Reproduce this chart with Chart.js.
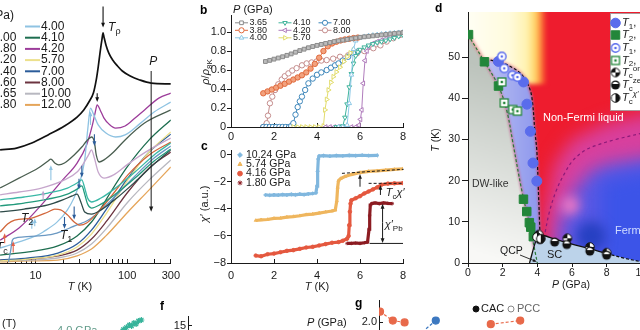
<!DOCTYPE html>
<html>
<head>
<meta charset="utf-8">
<script src="https://cdn.jsdelivr.net/npm/chart.js@4.4.1/dist/chart.umd.min.js"></script>
<style>
html, body { margin: 0; padding: 0; background: #fff; }
body { position: relative; width: 640px; height: 330px; overflow: hidden; }
canvas { position: absolute; }
</style>
</head>
<body>
<canvas id="chartA" width="230" height="300" style="left:-40px; top:0px"></canvas>
<canvas id="chartB" width="220" height="145" style="left:200px; top:0px"></canvas>
<canvas id="chartC" width="220" height="165" style="left:200px; top:140px"></canvas>
<canvas id="chartD" width="250" height="300" style="left:430px; top:0px"></canvas>
<canvas id="chartE" width="160" height="60" style="left:0px; top:290px"></canvas>
<canvas id="chartF" width="190" height="60" style="left:160px; top:290px"></canvas>
<canvas id="chartG" width="300" height="60" style="left:340px; top:290px"></canvas>
<script>
const INK = '#1a1a1a'
const FONT = "'Liberation Sans', Arial, sans-serif"

// ---------- a: resistivity vs T (log axis), one curve per pressure ----------
const aPressure = ['0', '1.00', '1.80', '2.20', '2.40', '3.60', '3.65', '3.80', '4.00', '4.10', '4.20', '5.70', '7.00', '8.00', '10.00', '12.00']
const aColor = ['#111111', '#4a5e50', '#c6a6cc', '#3ab8a6', '#239a7c', '#2e4a48', '#d2663a', '#6a98c2', '#8fc3e2', '#1e6e50', '#9c3c9a', '#ece08c', '#2b5c9a', '#6c3440', '#b8b8c0', '#e5a55a']
const bundleT = [4.1, 8.4, 17.5, 28.4, 40.8, 58.7, 102, 174, 300]
const aT = [
    [4.1, 6.2, 9.1, 13.7, 20.7, 28.4, 33.6, 38.8, 42.8, 46.0, 48.3, 50.7, 53.2, 54.6, 55.9, 58.7, 63.1, 69.5, 78.5, 88.6, 108, 137, 183, 300],
    [4.1, 6.6, 10.7, 13.7, 14.7, 16.2, 17.9, 20.7, 26.4, 32.0, 36.1, 40.8, 43.9, 46.0, 49.5, 55.9, 71.2, 95.0, 155, 300],
    [4.1, 6.6, 11.6, 20.7, 28.4, 33.6, 37.9, 40.8, 43.9, 48.3, 55.9, 71.2, 102, 174, 300],
    [4.1, 7.5, 13.7, 22.3, 28.4, 32.0, 34.4, 37.0, 40.8, 51.9, 74.7, 122, 197, 300],
    [4.1, 7.5, 13.7, 22.3, 28.4, 32.0, 34.4, 37.0, 40.8, 51.9, 74.7, 122, 197, 300],
    [4.1, 7.5, 13.7, 19.8, 25.1, 28.4, 31.2, 34.4, 40.8, 51.9, 74.7, 122, 197, 300],
    [4.1, 4.95, 5.9, 9.1, 13.7, 16.2, 18.8, 22.3, 26.4, 30.5, 36.1, 46.0, 66.2, 102, 174, 300],
    [5.07, 5.32, 5.59, 6.0, 7.5, 10.7, 15.5, 19.8, 25.1, 29.8, 34.4, 40.8, 51.9, 74.7, 122, 197, 300],
    [4.1, 6.6, 12.1, 22.3, 29.8, 34.4, 37.1, 39.8, 42.8, 48.3, 58.7, 74.7, 95.0, 137, 197, 300],
    [4.1, 8.4, 17.5, 28.4, 40.8, 51.9, 66.2, 102, 174, 300],
    [4.1, 6.6, 11.6, 19.8, 28.4, 36.1, 41.8, 44.9, 47.1, 50.7, 55.9, 63.1, 74.7, 95.0, 122, 155, 222, 300],
    bundleT, bundleT, bundleT, bundleT, bundleT
]
const aRho = [
    [43.0, 43.7, 45.6, 48.7, 52.1, 55.5, 58.2, 61.6, 64.6, 69.6, 74.5, 80.2, 85.2, 87.5, 85.9, 82.9, 79.8, 77.2, 74.9, 73.0, 71.1, 69.6, 68.4, 68.1],
    [28.5, 32.3, 36.1, 38.8, 39.5, 38.0, 37.3, 38.0, 41.1, 44.1, 46.4, 47.9, 46.0, 41.1, 38.4, 39.2, 42.2, 46.8, 53.2, 58.2],
    [25.9, 27.0, 28.5, 31.6, 34.6, 38.0, 41.1, 43.0, 39.9, 34.6, 32.3, 33.5, 37.6, 43.0, 47.5],
    [24.0, 25.1, 26.6, 28.5, 30.4, 31.6, 28.5, 24.7, 23.2, 24.7, 28.5, 34.6, 41.1, 45.6],
    [21.7, 22.8, 24.3, 26.2, 28.1, 29.3, 26.2, 22.4, 20.9, 22.4, 26.2, 32.3, 38.8, 43.3],
    [19.4, 20.5, 22.1, 24.0, 25.5, 26.2, 23.2, 19.4, 18.6, 20.2, 24.3, 30.8, 37.6, 43.0],
    [11.8, 14.8, 16.3, 17.1, 19.4, 20.5, 20.2, 18.3, 15.6, 14.4, 15.2, 18.6, 25.1, 33.5, 41.1, 46.0],
    [0.4, 4.2, 8.7, 9.5, 9.9, 10.3, 11.0, 12.2, 13.7, 14.8, 15.6, 17.1, 20.2, 25.5, 33.1, 39.9, 44.5],
    [5.7, 8.0, 11.8, 20.2, 29.7, 39.2, 50.6, 58.9, 56.7, 52.5, 49.4, 47.9, 48.7, 52.9, 57.4, 61.2],
    [3.0, 4.2, 6.5, 10.3, 15.6, 20.9, 27.0, 36.9, 46.8, 54.4],
    [8.7, 13.3, 22.1, 31.6, 38.0, 44.9, 52.5, 57.4, 60.1, 58.2, 55.1, 52.9, 51.3, 52.1, 55.1, 58.2, 62.7, 64.6],
    [0.8, 1.5, 3.0, 6.1, 11.0, 18.6, 31.6, 42.2, 49.8],
    [1.1, 1.9, 3.8, 7.2, 12.5, 20.2, 32.3, 42.2, 49.0],
    [1.1, 1.5, 2.7, 4.9, 9.1, 15.6, 27.0, 36.1, 42.2],
    [0.8, 1.1, 1.9, 3.8, 7.2, 12.9, 23.2, 31.6, 39.2],
    [0.4, 0.8, 1.1, 2.7, 5.3, 10.3, 19.4, 27.8, 36.5]
]
const aTicks = [5, 6, 7, 8, 9, 10, 20, 30, 40, 50, 60, 70, 80, 90, 100, 200, 300]
const aTickLabels = [10, 100, 300]
// transition markers: [T, rho from, rho to, colour]
const aArrows = [
    [54.6, 97.5, 89.5, '#111111'],
    [47.1, 64.5, 61.2, '#111111'],
    [39.8, 52.5, 57.6, '#8fc3e2'],
    [14.7, 31.5, 37.2, '#8fc3e2'],
    [43.9, 49.0, 44.5, '#2b5c9a'],
    [12.1, 24.0, 27.6, '#b9a2c9'],
    [32.0, 37.0, 32.5, '#2b5c9a'],
    [29.8, 32.0, 28.0, '#2b5c9a'],
    [9.1, 13.0, 16.6, '#8fc3e2'],
    [9.8, 14.0, 17.0, '#8fc3e2'],
    [20.7, 17.5, 13.0, '#2b5c9a'],
    [26.4, 21.5, 16.5, '#2b5c9a'],
    [4.6, 7.5, 11.3, '#e0604a'],
    [5.7, 4.0, 8.3, '#e0604a']
]
const aPressureArrow = [183, 73, 19.5]

// ---------- b: normalised resistance at low T ----------
const bPressure = ['3.65', '3.80', '4.00', '4.10', '4.20', '5.70', '7.00', '8.00']
const bColor = ['#8a8a8a', '#e0693c', '#8cc8e6', '#40b49c', '#b07cbc', '#e2dc6c', '#3d86ba', '#c48c8c']
const bFill = ['#bdbdbd', '#f2a27e', '#ffffff', '#ffffff', '#ffffff', '#ffffff', '#ffffff', '#ffffff']
const bStyle = ['rect', 'circle', 'triangle', 'triangle', 'triangle', 'triangle', 'circle', 'circle']
const bRot = [0, 0, 0, 180, -90, 90, 0, 0]
const bT = [
    [1.6, 1.8, 2.0, 2.2, 2.4, 2.6, 2.8, 3.0, 3.2, 3.4, 3.6, 3.8, 4.0, 4.2, 4.4, 4.6, 4.8, 5.0, 5.2, 5.4, 5.6, 5.8, 6.0, 6.2, 6.4, 6.6, 6.8, 7.0, 7.2, 7.4, 7.6, 7.8, 8.0],
    [1.5, 1.7, 1.9, 2.1, 2.3, 2.5, 2.7, 2.9, 3.1, 3.3, 3.5, 3.7, 3.9, 4.1, 4.3, 4.5, 4.7, 4.9, 5.1, 5.3, 5.5, 5.7, 5.9],
    [5.0, 5.2, 5.4, 5.5, 5.6, 5.7, 5.8, 6.0, 6.2, 6.4, 6.6, 6.8, 7.0, 7.2, 7.4, 7.6, 7.8, 8.0],
    [4.9, 5.0, 5.1, 5.2, 5.3, 5.4, 5.5, 5.6, 5.7, 5.8, 5.9, 6.0, 6.2, 6.4, 6.6, 6.8, 7.0, 7.2, 7.4, 7.6, 7.8, 8.0],
    [4.4, 4.6, 4.8, 5.0, 5.2, 5.4, 5.6, 5.8, 5.95, 6.02, 6.08, 6.15, 6.23, 6.32, 6.4, 6.6, 6.8, 7.0, 7.2, 7.4, 7.6, 7.8, 8.0],
    [2.9, 3.1, 3.3, 3.5, 3.7, 3.9, 4.1, 4.3, 4.37, 4.45, 4.53, 4.65, 4.76, 4.9, 5.07, 5.25, 5.4, 5.55, 5.7],
    [1.5, 1.65, 1.8, 1.95, 2.1, 2.25, 2.4, 2.55, 2.7, 2.8, 2.9, 3.0, 3.1, 3.2, 3.3, 3.45, 3.6, 3.8, 4.0, 4.2, 4.45, 4.65, 4.84, 5.0, 5.2, 5.45, 5.7, 5.9],
    [1.5, 1.6, 1.66, 1.72, 1.81, 1.92, 2.05, 2.2, 2.36, 2.5, 2.67, 2.85, 3.05, 3.3, 3.52, 3.75, 3.98, 4.2, 4.45, 4.75, 5.07, 5.45, 5.85, 6.2, 6.62, 6.95, 7.24, 7.55, 7.86]
]
const bRatio = [
    [0.690, 0.702, 0.715, 0.727, 0.740, 0.755, 0.770, 0.788, 0.805, 0.820, 0.835, 0.848, 0.860, 0.870, 0.880, 0.890, 0.900, 0.908, 0.915, 0.923, 0.930, 0.938, 0.945, 0.950, 0.955, 0.960, 0.965, 0.970, 0.975, 0.980, 0.985, 0.990, 0.995],
    [0.355, 0.375, 0.395, 0.415, 0.435, 0.455, 0.478, 0.500, 0.522, 0.545, 0.575, 0.615, 0.665, 0.730, 0.800, 0.850, 0.880, 0.898, 0.912, 0.922, 0.930, 0.937, 0.942],
    [0, 0, 0.02, 0.25, 0.55, 0.82, 0.91, 0.94, 0.952, 0.96, 0.966, 0.972, 0.977, 0.982, 0.986, 0.99, 0.994, 0.998],
    [0, 0, 0, 0.01, 0.10, 0.24, 0.42, 0.56, 0.67, 0.75, 0.79, 0.815, 0.84, 0.86, 0.875, 0.89, 0.90, 0.912, 0.925, 0.94, 0.955, 0.97],
    [0, 0, 0, 0, 0, 0, 0, 0, 0.02, 0.08, 0.18, 0.46, 0.70, 0.80, 0.85, 0.88, 0.90, 0.915, 0.93, 0.945, 0.96, 0.975, 0.99],
    [0, 0, 0, 0, 0, 0, 0, 0.01, 0.18, 0.29, 0.39, 0.47, 0.53, 0.58, 0.63, 0.69, 0.74, 0.78, 0.81],
    [0, 0, 0, 0, 0, 0, 0, 0, 0, 0.01, 0.04, 0.13, 0.21, 0.27, 0.32, 0.39, 0.46, 0.51, 0.55, 0.575, 0.60, 0.625, 0.65, 0.67, 0.70, 0.74, 0.78, 0.795],
    [0, 0.01, 0.04, 0.12, 0.25, 0.32, 0.39, 0.45, 0.50, 0.535, 0.565, 0.595, 0.62, 0.65, 0.67, 0.68, 0.69, 0.70, 0.705, 0.72, 0.74, 0.755, 0.775, 0.80, 0.83, 0.86, 0.90, 0.935, 0.97]
]

// ---------- c: ac susceptibility ----------
const cPressure = ['10.24 GPa', '5.74 GPa', '4.16 GPa', '1.80 GPa']
const cColor = ['#80b7de', '#efb65e', '#e4583f', '#8c1c22']
const cStyle = ['rectRot', 'triangle', 'circle', 'star']
const cT = [
    [1.6, 1.8, 2.0, 2.2, 2.4, 2.6, 2.8, 3.0, 3.2, 3.4, 3.6, 3.8, 3.95, 4.0, 4.03, 4.06, 4.1, 4.3, 4.6, 4.9, 5.2, 5.5, 5.8, 6.1, 6.4, 6.8],
    [1.15, 1.4, 1.7, 2.0, 2.3, 2.6, 2.9, 3.2, 3.5, 3.8, 4.1, 4.4, 4.7, 4.85, 4.92, 4.96, 5.0, 5.1, 5.3, 5.6, 6.0, 6.4, 6.8, 7.2, 7.6, 8.0],
    [1.15, 1.4, 1.7, 2.0, 2.3, 2.6, 2.9, 3.2, 3.5, 3.8, 4.1, 4.4, 4.7, 5.0, 5.2, 5.4, 5.47, 5.5, 5.53, 5.56, 5.6, 5.8, 6.0, 6.2, 6.4, 6.6, 6.8, 7.0, 7.3, 7.6, 8.0],
    [5.4, 5.6, 5.8, 6.0, 6.2, 6.35, 6.42, 6.45, 6.48, 6.55, 6.7, 6.9, 7.1, 7.3, 7.5]
]
const cChi = [
    [-2.96, -2.98, -2.95, -2.97, -2.93, -2.96, -2.92, -2.95, -2.90, -2.93, -2.88, -2.85, -2.80, -2.3, -1.2, -0.3, -0.08, -0.05, -0.08, -0.04, -0.06, -0.03, -0.05, -0.02, -0.04, -0.03],
    [-4.85, -4.80, -4.78, -4.70, -4.68, -4.60, -4.56, -4.50, -4.42, -4.38, -4.30, -4.22, -4.15, -4.08, -3.4, -2.4, -1.9, -1.75, -1.6, -1.45, -1.3, -1.22, -1.17, -1.12, -1.07, -1.02],
    [-7.45, -7.5, -7.35, -7.3, -7.2, -7.1, -7.05, -6.95, -6.85, -6.8, -6.7, -6.6, -6.5, -6.45, -6.35, -6.2, -6.0, -5.2, -4.2, -3.6, -3.35, -3.2, -3.05, -2.85, -2.7, -2.55, -2.4, -2.2, -2.12, -2.1, -2.08],
    [-6.55, -6.55, -6.52, -6.55, -6.5, -6.45, -5.5, -4.5, -3.7, -3.6, -3.55, -3.6, -3.55, -3.58, -3.6]
]

// ---------- d: phase diagram ----------
const dT1P = [1.75, 3.2, 3.4, 3.6, 3.75, 3.97]
const dT1 = [49, 44, 38.6, 32, 24.3, 19.9]
const dT1oP = [1.95, 2.09, 2.56, 2.85]
const dT1o = [50.2, 47.3, 45.6, 45.2]
const dT2P = [0.03, 0.95, 1.76, 3.2, 3.39, 3.54, 3.62, 3.77]
const dT2 = [55.5, 48.9, 43, 15.5, 12.5, 9.8, 8.7, 6.4]
const dT2oP = [1.95, 2.09, 2.58, 2.85]
const dT2o = [44, 38.9, 37.3, 36.9]
const dTcOnP = [4.08, 5.73, 7.03, 8.0]
const dTcOn = [6.9, 6.0, 3.9, 2.5]
const dTcZeroP = [4.15, 5.0, 5.7, 7.03, 8.0]
const dTcZero = [5.7, 5.1, 4.5, 2.9, 1.9]
const dTcChiP = [3.98, 4.2]
const dTcChi = [6.3, 5.9]
const dT2LineP = [0, 0.95, 1.76, 2.24, 2.6, 3.1, 3.58, 4.0]
const dT2Line = [55.5, 48.9, 43, 37, 29, 17.7, 8.8, 0]
const dT1LineP = [1.3, 2.0, 2.6, 3.1, 3.45, 3.68, 3.87, 3.97, 4.06, 4.15]
const dT1Line = [49.3, 48.6, 47.4, 45.8, 43.5, 40.4, 31.5, 27.4, 17.7, 7.3]
const dFLLineP = [4.45, 4.7, 5.1, 5.6, 6.07, 6.8, 7.4, 8.5, 10.5]
const dFLLine = [7.5, 12.5, 17.7, 22, 25, 27.5, 28.6, 30, 32]
const dSCLineP = [3.55, 3.95, 4.15, 5.0, 6.0, 7.0, 8.0]
const dSCLine = [0, 5.8, 6.8, 5.8, 4.6, 3.5, 2.3]
const dSCTailP = [8.0, 9.0, 10.0, 10.5]
const dSCTail = [2.3, 1.2, 0.3, 0]

// ---------- e, f, g (top edges only) ----------
const eX = [0.79, 0.81, 0.83, 0.845, 0.86, 0.875, 0.89, 0.91]
const eY = [0.12, 0.20, 0.30, 0.26, 0.38, 0.34, 0.46, 0.50]
const gCacP = [0.04, 0.54, 1.0]
const gCac = [2.144, 2.024, 2.0]
const gBlueP = [1.84, 2.22]
const gBlue = [1.916, 2.024]
const gRightP = [4.37, 5.52]
const gRight = [1.976, 2.024]

Chart.defaults.font.family = FONT
Chart.defaults.font.size = 11
Chart.defaults.color = INK
Chart.defaults.animation = false
Chart.defaults.responsive = false
Chart.defaults.devicePixelRatio = 1
Chart.defaults.events = []
Chart.defaults.plugins.legend.display = false
Chart.defaults.plugins.tooltip.enabled = false

const zip = (xs, ys) => xs.map((v, i) => ({ x: v, y: ys[i] }))

// text made of runs; each run may be italic, bold, sub- or superscript
function rich(ctx, x, y, parts, size, color, align) {
    const list = parts.map(p => typeof p === 'string' ? { t: p } : p)
    const fontOf = p => (p.b ? 'bold ' : '') + (p.i ? 'italic ' : '') + ((p.sub || p.sup) ? Math.round(size * 0.72) : size) + 'px ' + FONT
    ctx.save()
    ctx.fillStyle = color || INK
    ctx.textBaseline = 'middle'
    ctx.textAlign = 'left'
    let w = 0
    list.forEach(p => { ctx.font = fontOf(p); w += ctx.measureText(p.t).width })
    let cx = align === 'center' ? x - w / 2 : align === 'right' ? x - w : x
    list.forEach(p => {
        ctx.font = fontOf(p)
        ctx.fillText(p.t, cx, y + (p.sub ? size * 0.32 : p.sup ? -size * 0.38 : 0))
        cx += ctx.measureText(p.t).width
    })
    ctx.restore()
}

function richUp(ctx, x, y, parts, size, color) {
    ctx.save()
    ctx.translate(x, y)
    ctx.rotate(-Math.PI / 2)
    rich(ctx, 0, 0, parts, size, color, 'center')
    ctx.restore()
}

function arrow(ctx, x1, y1, x2, y2, color, head, width) {
    const a = Math.atan2(y2 - y1, x2 - x1)
    const h = head || 3
    ctx.save()
    ctx.strokeStyle = color
    ctx.fillStyle = color
    ctx.lineWidth = width || 1
    ctx.beginPath()
    ctx.moveTo(x1, y1)
    ctx.lineTo(x2 - h * Math.cos(a), y2 - h * Math.sin(a))
    ctx.stroke()
    ctx.beginPath()
    ctx.moveTo(x2, y2)
    ctx.lineTo(x2 - 2 * h * Math.cos(a) + h * 0.8 * Math.sin(a), y2 - 2 * h * Math.sin(a) - h * 0.8 * Math.cos(a))
    ctx.lineTo(x2 - 2 * h * Math.cos(a) - h * 0.8 * Math.sin(a), y2 - 2 * h * Math.sin(a) + h * 0.8 * Math.cos(a))
    ctx.closePath()
    ctx.fill()
    ctx.restore()
}

function line(ctx, pts, color, width, dash) {
    ctx.save()
    ctx.strokeStyle = color
    ctx.lineWidth = width
    ctx.setLineDash(dash || [])
    ctx.beginPath()
    pts.forEach(([x, y], i) => i ? ctx.lineTo(x, y) : ctx.moveTo(x, y))
    ctx.stroke()
    ctx.restore()
}

function mark(ctx, style, x, y, r, fill, stroke, rot) {
    ctx.save()
    ctx.fillStyle = fill
    ctx.strokeStyle = stroke
    ctx.lineWidth = 1
    Chart.helpers.drawPoint(ctx, { pointStyle: style, radius: r, rotation: rot || 0, borderWidth: 1 }, x, y)
    ctx.restore()
}

function axis(o) {
    return {
        type: o.type || 'linear',
        display: o.display !== false,
        min: o.min,
        max: o.max,
        afterBuildTicks: s => { s.ticks = (o.ticks || []).map(v => ({ value: v })) },
        afterFit: s => {
            if (o.fit !== undefined) { if (s.isHorizontal()) s.height = o.fit; else s.width = o.fit }
            if (o.flush) { s.paddingTop = 0; s.paddingBottom = 0; s.paddingLeft = 0; s.paddingRight = 0 }
        },
        grid: { drawOnChartArea: false, drawTicks: true, tickLength: o.tl, tickColor: INK, tickWidth: 1 },
        border: { display: true, color: INK, width: 1 },
        ticks: {
            autoSkip: false, maxRotation: 0, minRotation: 0,
            padding: o.pad, color: INK, font: { size: o.size || 11 },
            callback: o.fmt || (v => String(v))
        }
    }
}

// small marker glyphs for the phase diagram
function glyph(size, draw) {
    const c = document.createElement('canvas')
    c.width = size
    c.height = size
    draw(c.getContext('2d'), size / 2)
    return c
}
const T1_BLUE = '#5a6cec'
const T2_GREEN = '#23863a'
const ringDot = glyph(12, (g, m) => {
    g.fillStyle = '#fff'; g.strokeStyle = T1_BLUE; g.lineWidth = 1.4
    g.beginPath(); g.arc(m, m, 4.2, 0, Math.PI * 2); g.fill(); g.stroke()
    g.fillStyle = T1_BLUE; g.beginPath(); g.arc(m, m, 1.3, 0, Math.PI * 2); g.fill()
})
const boxDot = glyph(12, (g, m) => {
    g.fillStyle = '#fff'; g.strokeStyle = T2_GREEN; g.lineWidth = 1.3
    g.fillRect(m - 4, m - 4, 8, 8); g.strokeRect(m - 4, m - 4, 8, 8)
    g.fillStyle = T2_GREEN; g.fillRect(m - 1.2, m - 1.2, 2.4, 2.4)
})
const tcOnset = glyph(12, (g, m) => {
    g.fillStyle = '#fff'; g.beginPath(); g.arc(m, m, 4.3, 0, Math.PI * 2); g.fill()
    g.fillStyle = '#111'
    for (let k = 0; k < 4; k += 2) {
        g.beginPath(); g.moveTo(m, m); g.arc(m, m, 4.3, k * Math.PI / 2, (k + 1) * Math.PI / 2); g.closePath(); g.fill()
    }
    g.strokeStyle = '#111'; g.lineWidth = 1; g.beginPath(); g.arc(m, m, 4.3, 0, Math.PI * 2); g.stroke()
})
const tcZero = glyph(12, (g, m) => {
    g.fillStyle = '#111'; g.beginPath(); g.arc(m, m, 4.5, 0, Math.PI * 2); g.fill()
    g.fillStyle = '#fff'; g.beginPath(); g.arc(m, m, 3.2, Math.PI * 1.1, Math.PI * 1.9); g.closePath(); g.fill()
})
const tcChi = glyph(12, (g, m) => {
    g.fillStyle = '#fff'; g.beginPath(); g.arc(m, m, 4.3, 0, Math.PI * 2); g.fill()
    g.fillStyle = '#111'; g.beginPath(); g.arc(m, m, 4.3, -Math.PI / 2, Math.PI / 2); g.closePath(); g.fill()
    g.strokeStyle = '#111'; g.lineWidth = 1; g.beginPath(); g.arc(m, m, 4.3, 0, Math.PI * 2); g.stroke()
})

// ================= panel a =================
const aNotes = {
    id: 'aNotes',
    afterDraw(chart) {
        const { ctx, scales: { x, y } } = chart
        aArrows.forEach(([t, r0, r1, c]) => {
            const px = x.getPixelForValue(t)
            arrow(ctx, px, y.getPixelForValue(r0), px, y.getPixelForValue(r1), c, 2.4, 1.1)
        })
        const pp = x.getPixelForValue(aPressureArrow[0])
        arrow(ctx, pp, y.getPixelForValue(aPressureArrow[1]), pp, y.getPixelForValue(aPressureArrow[2]), INK, 2.6, 1)
        rich(ctx, pp + 2, y.getPixelForValue(76.5), [{ t: 'P', i: true }], 12, INK, 'center')
        const pk = x.getPixelForValue(54.6)
        rich(ctx, pk + 5, y.getPixelForValue(89.5), [{ t: 'T', i: true }, { t: 'ρ', sub: true }], 12, INK)

        // page coordinates from here on
        ctx.save()
        ctx.translate(40, 0)
        rich(ctx, 14, 15.5, [{ t: 'P', i: true }, ' (GPa)'], 12, INK, 'right')
        aPressure.forEach((p, i) => {
            const col = i < 8 ? 0 : 1
            const yy = 26.5 + (i % 8) * 11.2
            const lx = col ? 25 : -23
            line(ctx, [[lx, yy], [lx + 15, yy]], aColor[i], 2)
            rich(ctx, lx + 16, yy, [p], 12, INK)
        })
        rich(ctx, 21, 219, [{ t: 'T', i: true }, { t: '2', sub: true }], 12, INK)
        rich(ctx, 60, 236, [{ t: 'T', i: true }, { t: '1', sub: true }], 12, INK)
        rich(ctx, -4, 248, [{ t: 'T', i: true }, { t: 'c', sub: true }], 12, INK)
        rich(ctx, 80, 286.5, [{ t: 'T', i: true }, ' (K)'], 11, INK, 'center')
        ctx.restore()
    }
}

new Chart(document.getElementById('chartA'), {
    type: 'scatter',
    data: {
        datasets: aPressure.map((p, i) => ({
            label: p,
            data: zip(aT[i], aRho[i]),
            showLine: true,
            borderColor: aColor[i],
            borderWidth: i === 0 ? 1.7 : 1.3,
            pointRadius: 0,
            cubicInterpolationMode: 'monotone'
        }))
    },
    options: {
        layout: { padding: { left: 40, right: 12, top: 0, bottom: 0 } },
        scales: {
            x: axis({ type: 'logarithmic', min: 4.09, max: 300, ticks: aTicks, fit: 37, tl: -4, pad: 10,
                fmt: v => aTickLabels.includes(v) ? String(v) : '' }),
            y: { display: false, min: 0, max: 100 }
        }
    },
    plugins: [aNotes]
})

// ================= panel b =================
const bNotes = {
    id: 'bNotes',
    afterDraw(chart) {
        const { ctx } = chart
        ctx.save()
        ctx.translate(-200, 0)
        rich(ctx, 200, 11, [{ t: 'b', b: true }], 12, '#000')
        rich(ctx, 233, 10, [{ t: 'P', i: true }, ' (GPa)'], 11, INK)
        const colX = [241.5, 285, 325]
        const rowY = [22.8, 30.3, 37.8]
        bPressure.forEach((p, i) => {
            const cx = colX[Math.floor(i / 3)]
            const cy = rowY[i % 3]
            line(ctx, [[cx - 6.5, cy], [cx + 6.5, cy]], bColor[i], 1)
            mark(ctx, bStyle[i], cx, cy, 2.6, '#fff', bColor[i], bRot[i])
            rich(ctx, cx + 8, cy, [p], 9, INK)
        })
        richUp(ctx, 206, 72, [{ t: 'ρ', i: true }, '/', { t: 'ρ', i: true }, { t: '8K', sub: true }], 11, INK)
        ctx.restore()
    }
}

new Chart(document.getElementById('chartB'), {
    type: 'scatter',
    data: {
        datasets: bPressure.map((p, i) => ({
            label: p,
            data: zip(bT[i], bRatio[i]),
            showLine: true,
            borderColor: bColor[i],
            borderWidth: 1,
            pointStyle: bStyle[i],
            rotation: bRot[i],
            pointRadius: 2.7,
            pointBorderWidth: 1,
            pointBackgroundColor: bFill[i],
            pointBorderColor: bColor[i]
        }))
    },
    options: {
        layout: { padding: { left: 0, right: 17, top: 15, bottom: 0 } },
        scales: {
            x: axis({ min: 0, max: 8, ticks: [0, 2, 4, 6, 8], fit: 18, tl: -4, pad: 7 }),
            y: axis({ min: 0, max: 1.18, ticks: [0, 0.2, 0.4, 0.6, 0.8, 1.0], fit: 31, tl: 4, pad: 1,
                fmt: v => v === 0 ? '0' : v.toFixed(1) })
        }
    },
    plugins: [bNotes]
})

// ================= panel c =================
const cNotes = {
    id: 'cNotes',
    afterDraw(chart) {
        const { ctx, scales: { x, y } } = chart
        const P = (t, v) => [x.getPixelForValue(t), y.getPixelForValue(v)]
        line(ctx, [P(5.16, -1.36), P(8.03, -1.06)], INK, 1, [3, 2])
        line(ctx, [P(6.4, -2.1), P(8.03, -2.1)], INK, 1, [3, 2])
        line(ctx, [P(6.45, -6.55), P(8.0, -6.55)], INK, 1)
        arrow(ctx, ...P(6.0, -2.35), ...P(6.0, -1.4), INK, 2.4, 1)
        arrow(ctx, ...P(6.95, -2.96), ...P(6.95, -2.22), INK, 2.4, 1)
        arrow(ctx, ...P(7.05, -5.0), ...P(7.05, -3.62), INK, 2.4, 1)
        arrow(ctx, ...P(7.05, -5.0), ...P(7.05, -6.52), INK, 2.4, 1)
        rich(ctx, ...P(7.2, -2.8), [{ t: 'T', i: true }, { t: 'c', sub: true }, { t: 'χ′', i: true }], 11, INK)
        rich(ctx, ...P(7.15, -5.2), [{ t: 'χ′', i: true }, { t: 'Pb', sub: true }], 11, INK)

        ctx.save()
        ctx.translate(-200, -140)
        rich(ctx, 201, 147, [{ t: 'c', b: true }], 12, '#000')
        cPressure.forEach((p, i) => {
            const cy = 155 + i * 9.3
            mark(ctx, cStyle[i], 240, cy, 2.4, cColor[i], cColor[i])
            rich(ctx, 246, cy, [p], 10.5, INK)
        })
        rich(ctx, 317, 286.5, [{ t: 'T', i: true }, ' (K)'], 11, INK, 'center')
        richUp(ctx, 205, 204, [{ t: 'χ′', i: true }, ' (a.u.)'], 11, INK)
        ctx.restore()
    }
}

new Chart(document.getElementById('chartC'), {
    type: 'scatter',
    data: {
        datasets: cPressure.map((p, i) => ({
            label: p,
            data: zip(cT[i], cChi[i]),
            showLine: true,
            borderColor: cColor[i],
            borderWidth: 3.2,
            pointStyle: cStyle[i],
            pointRadius: 1.8,
            pointBorderWidth: 0.8,
            pointBackgroundColor: cColor[i],
            pointBorderColor: cColor[i]
        }))
    },
    options: {
        layout: { padding: { left: 0, right: 17, top: 10, bottom: 0 } },
        scales: {
            x: axis({ min: 0, max: 8, ticks: [0, 2, 4, 6, 8], fit: 42, tl: -4, pad: 10 }),
            y: axis({ min: -8, max: 0.37, ticks: [-8, -6, -4, -2, 0], fit: 31, tl: 4, pad: 1,
                fmt: v => v === 0 ? '0' : '\u2212' + Math.abs(v) })
        }
    },
    plugins: [cNotes]
})

// ================= panel d =================
const phaseMap = {
    id: 'phaseMap',
    beforeDraw(chart) {
        const { ctx, chartArea: a, scales: { x, y } } = chart
        const X = v => x.getPixelForValue(v)
        const Y = v => y.getPixelForValue(v)
        const path = pts => {
            ctx.beginPath()
            pts.forEach(([p, t], i) => i ? ctx.lineTo(X(p), Y(t)) : ctx.moveTo(X(p), Y(t)))
            ctx.closePath()
        }
        const pairs = (ps, ts) => ps.map((p, i) => [p, ts[i]])
        const t2 = pairs(dT2LineP, dT2Line)
        const t1 = pairs(dT1LineP, dT1Line)
        const sc = pairs(dSCLineP, dSCLine).concat(pairs(dSCTailP, dSCTail).slice(1))

        ctx.save()
        ctx.beginPath()
        ctx.rect(a.left, a.top, a.width, a.height)
        ctx.clip()
        ctx.fillStyle = '#ee1c2e'
        ctx.fillRect(a.left, a.top, a.width, a.height)

        // high-pressure, low-temperature side of the map
        ctx.filter = 'blur(9px)'
        path([[4.5, -5], [4.4, 12], [5, 24], [6, 30], [8, 34], [11, 37], [11, -5]])
        ctx.fillStyle = '#d8409e'; ctx.fill()
        path([[5.2, -5], [5.2, 8], [5.6, 13], [6.2, 18], [7.0, 22], [8, 24], [11, 26], [11, -5]])
        ctx.fillStyle = '#5a58e4'; ctx.fill()
        path([[7.6, -5], [7.6, 20], [11, 23], [11, -5]])
        ctx.fillStyle = '#3c54e8'; ctx.fill()
        ctx.filter = 'blur(6px)'
        ctx.beginPath(); ctx.arc(X(5.9), Y(14), 9, 0, Math.PI * 2)
        ctx.fillStyle = '#f27cc6'; ctx.fill()
        ctx.beginPath(); ctx.arc(X(7.1), Y(6.5), 15, 0, Math.PI * 2)
        ctx.fillStyle = '#2640c2'; ctx.fill()

        // low-pressure side: cream above the dome, DW-like grey, lavender between T2 and T1
        ctx.filter = 'blur(2px)'
        path([[-1, 66], [-1, 56]].concat(t2.slice(0, 2), t1.slice(0, 5), [[4.5, 43.5], [4.5, 66]]))
        const cream = ctx.createLinearGradient(X(0), 0, X(4.4), 0)
        cream.addColorStop(0, '#fffef4')
        cream.addColorStop(0.55, '#fffbdc')
        cream.addColorStop(0.77, '#fff2b0')
        cream.addColorStop(0.87, '#ffd870')
        cream.addColorStop(0.93, '#ffa848')
        cream.addColorStop(1, '#f3402e')
        ctx.fillStyle = cream; ctx.fill()

        ctx.filter = 'blur(1.5px)'
        path([[-1, -5], [-1, 56]].concat(t2, [[4.0, -5]]))
        const grey = ctx.createLinearGradient(X(0), Y(3), X(3), Y(45))
        grey.addColorStop(0, '#f8f8f6')
        grey.addColorStop(1, '#bcc3bc')
        ctx.fillStyle = grey; ctx.fill()

        path([t2[1]].concat(t1, [[4.1, -1], [4.0, -1]], t2.slice(1).reverse()))
        const lav = ctx.createLinearGradient(X(1), 0, X(4.2), 0)
        lav.addColorStop(0, '#b8bef2')
        lav.addColorStop(1, '#8c96ec')
        ctx.fillStyle = lav; ctx.fill()

        ctx.filter = 'none'
        path(sc.concat([[10.5, -1], [3.55, -1]]))
        ctx.fillStyle = '#bcd3ea'; ctx.fill()
        ctx.restore()
    }
}

const dNotes = {
    id: 'dNotes',
    afterDraw(chart) {
        const { ctx, scales: { x, y } } = chart
        const qx = x.getPixelForValue(3.97), qy = y.getPixelForValue(0.3)
        ctx.save()
        ctx.translate(-430, 0)
        rich(ctx, 435, 9, [{ t: 'd', b: true }], 12, '#000')
        rich(ctx, 571, 285.5, [{ t: 'P', i: true }, ' (GPa)'], 10.5, INK, 'center')
        richUp(ctx, 436, 140, [{ t: 'T', i: true }, ' (K)'], 10.5, INK)
        rich(ctx, 543, 118, ['Non-Fermi liquid'], 11, '#ffffff')
        rich(ctx, 472, 184, ['DW-like'], 10.5, '#333333')
        rich(ctx, 547, 254.5, ['SC'], 11, INK)
        rich(ctx, 615, 231, ['Fermi liquid'], 11, '#d0dcff')
        rich(ctx, 500, 251, ['QCP'], 10.5, INK)
        arrow(ctx, 520, 255, qx + 430, qy, INK, 2, 0.9)

        // legend box
        ctx.fillStyle = '#fff'
        ctx.strokeStyle = '#9a9a9a'
        ctx.lineWidth = 0.8
        ctx.fillRect(610.5, 13.5, 50, 97)
        ctx.strokeRect(610.5, 13.5, 50, 97)
        const rows = [23, 35, 48, 60.5, 72.5, 85, 98]
        mark(ctx, 'circle', 615.5, rows[0], 4.8, T1_BLUE, T1_BLUE)
        mark(ctx, 'rect', 615.5, rows[1], 6, T2_GREEN, T2_GREEN)
        ;[ringDot, boxDot, tcOnset, tcZero, tcChi].forEach((g, k) => ctx.drawImage(g, 615.5 - 6, rows[k + 2] - 6))
        const lab = [
            [{ t: 'T', i: true }, { t: '1', sub: true }, ','],
            [{ t: 'T', i: true }, { t: '2', sub: true }, ','],
            [{ t: 'T', i: true }, { t: '1', sub: true }, ','],
            [{ t: 'T', i: true }, { t: '2', sub: true }, ','],
            [{ t: 'T', i: true }, { t: 'c', sub: true }, { t: 'onset', sup: true }],
            [{ t: 'T', i: true }, { t: 'c', sub: true }, { t: 'zero', sup: true }],
            [{ t: 'T', i: true }, { t: 'c', sub: true }, { t: 'χ′', sup: true, i: true }]
        ]
        lab.forEach((parts, k) => rich(ctx, 622, rows[k], parts, 11, INK))
        ctx.restore()
    }
}

const lineSet = (ps, ts, color, dash, width) => ({
    data: zip(ps, ts), showLine: true, borderColor: color, borderWidth: width || 1.2,
    borderDash: dash, pointRadius: 0, tension: 0.35
})

new Chart(document.getElementById('chartD'), {
    type: 'scatter',
    data: {
        datasets: [
            { data: zip(dTcChiP, dTcChi), pointStyle: tcChi },
            { data: zip(dTcZeroP, dTcZero), pointStyle: tcZero },
            { data: zip(dTcOnP, dTcOn), pointStyle: tcOnset },
            { data: zip(dT1oP, dT1o), pointStyle: ringDot },
            { data: zip(dT2oP, dT2o), pointStyle: boxDot },
            { data: zip(dT1P, dT1), pointStyle: 'circle', pointRadius: 5, pointBackgroundColor: T1_BLUE, pointBorderColor: T1_BLUE },
            { data: zip(dT2P, dT2), pointStyle: 'rect', pointRadius: 6, pointBackgroundColor: T2_GREEN, pointBorderColor: T2_GREEN },
            lineSet(dSCLineP, dSCLine, '#111', [], 1.3),
            lineSet(dSCTailP, dSCTail, '#111', [3, 2], 1.2),
            lineSet(dFLLineP, dFLLine, '#8c1a78', [3, 3], 1.2),
            lineSet(dT1LineP, dT1Line, '#111', [3, 2], 1.2),
            lineSet(dT2LineP, dT2Line, '#2a7a36', [3, 2], 1.2)
        ]
    },
    options: {
        layout: { padding: { left: 0, right: 30, top: 12, bottom: 0 } },
        scales: {
            x: axis({ min: 0, max: 10.5, ticks: [0, 2, 4, 6, 8, 10], fit: 37, tl: 4, pad: 0, size: 10.5 }),
            y: axis({ min: 0, max: 61, ticks: [0, 10, 20, 30, 40, 50], fit: 38, tl: 6, pad: 2, size: 10.5 })
        }
    },
    plugins: [phaseMap, dNotes]
})

// ================= panels e, f and g (top edge) =================
const eNotes = {
    id: 'eNotes',
    afterDraw(chart) {
        const { ctx } = chart
        ctx.save()
        ctx.translate(0, -290)
        rich(ctx, 2, 323.5, ['(', { t: 'T', i: false }, ')'], 11, INK)
        rich(ctx, 57, 331, ['4.0 GPa'], 11, '#5f9a88')
        ctx.restore()
    }
}
new Chart(document.getElementById('chartE'), {
    type: 'scatter',
    data: {
        datasets: [{ data: zip(eX, eY), pointStyle: 'star', pointRadius: 3, pointBorderWidth: 1.2, pointBorderColor: '#36b39a', pointBackgroundColor: '#36b39a' }]
    },
    options: {
        layout: { padding: 0 },
        scales: {
            x: { display: false, min: 0, max: 1 },
            y: { display: false, min: -0.5, max: 1.5 }
        }
    },
    plugins: [eNotes]
})

const fNotes = {
    id: 'fNotes',
    afterDraw(chart) {
        const { ctx } = chart
        ctx.save()
        ctx.translate(-160, -290)
        rich(ctx, 160, 307, [{ t: 'f', b: true }], 12, '#000')
        rich(ctx, 307, 323, [{ t: 'P', i: true }, ' (GPa)'], 11, INK)
        ctx.restore()
    }
}
new Chart(document.getElementById('chartF'), {
    type: 'scatter',
    data: { datasets: [] },
    options: {
        layout: { padding: { left: 0, right: 0, top: 26, bottom: 0 } },
        scales: {
            x: { display: false, min: 0, max: 10 },
            y: axis({ min: 12, max: 16.2, ticks: [15], fit: 28, tl: -4, pad: 6, flush: true })
        }
    },
    plugins: [fNotes]
})

const gNotes = {
    id: 'gNotes',
    afterDraw(chart) {
        const { ctx } = chart
        ctx.save()
        ctx.translate(-340, -290)
        rich(ctx, 355, 304, [{ t: 'g', b: true }], 12, '#000')
        mark(ctx, 'circle', 476, 309, 3, '#111', '#111')
        rich(ctx, 481, 309, ['CAC'], 11, INK)
        mark(ctx, 'circle', 511, 309, 3, '#fff', '#888')
        rich(ctx, 517, 309, ['PCC'], 11, '#666')
        ctx.restore()
    }
}
new Chart(document.getElementById('chartG'), {
    type: 'scatter',
    data: {
        datasets: [
            { data: zip(gCacP, gCac), showLine: true, borderColor: '#e8694a', borderDash: [3, 2], borderWidth: 1.2, pointRadius: 3.5, pointBackgroundColor: '#e8694a', pointBorderColor: '#e8694a' },
            { data: zip(gBlueP, gBlue), showLine: true, borderColor: '#3c78c0', borderDash: [3, 2], borderWidth: 1.2, pointRadius: [0, 3.5], pointBackgroundColor: '#3c78c0', pointBorderColor: '#3c78c0' },
            { data: zip(gRightP, gRight), showLine: true, borderColor: '#e8694a', borderDash: [3, 2], borderWidth: 1.2, pointRadius: 3.5, pointBackgroundColor: '#e8694a', pointBorderColor: '#e8694a' }
        ]
    },
    options: {
        layout: { padding: { left: 9, right: 0, top: 10, bottom: 0 } },
        scales: {
            x: { display: false, min: 0, max: 10 },
            y: axis({ min: 1.7, max: 2.3, ticks: [2.0], fit: 30, tl: -4, pad: 6, flush: true, fmt: v => v.toFixed(1) })
        }
    },
    plugins: [gNotes]
})
</script>
</body>
</html>
